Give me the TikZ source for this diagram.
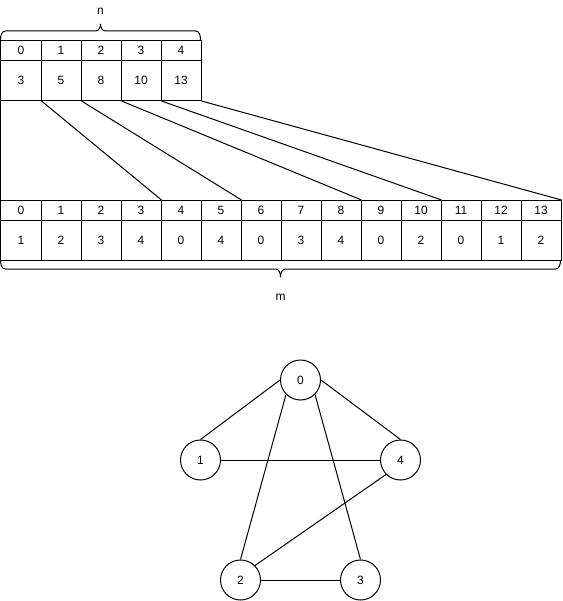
\documentclass[tikz,border=0pt]{standalone}
\usepackage{fontspec}
\setmainfont{Liberation Sans}
\begin{document}
\begin{tikzpicture}[x=1pt,y=-1pt,line width=1pt,
  cell/.style={draw, minimum width=40pt, minimum height=20pt, inner sep=0pt, anchor=north west, font=\fontsize{12}{14}\selectfont},
  vcell/.style={cell, minimum height=40pt},
  vert/.style={draw, circle, minimum size=40pt, inner sep=0pt, font=\fontsize{12}{14}\selectfont},
  lbl/.style={inner sep=0pt, font=\fontsize{12}{14}\selectfont},
  link/.style={line width=1pt}]
\useasboundingbox (-0.5,0) rectangle (561.5,601);
% top table
\foreach \v [count=\c from 0] in {3,5,8,10,13} {
  \node[cell] (ti\c) at (40*\c,40) {\c};
  \node[vcell] (tv\c) at (40*\c,60) {\v};
}
% bottom table
\foreach \v [count=\c from 0] in {1,2,3,4,0,4,0,3,4,0,2,0,1,2} {
  \node[cell] (bi\c) at (40*\c,200) {\c};
  \node[vcell] (bv\c) at (40*\c,220) {\v};
}
% braces
\node[lbl] (n) at (100,11) {n};
\draw (0,40) to[out=90,in=180] (5,31) -- (95,31) to[out=0,in=-90] (100,24);
\draw (100,24) to[out=-90,in=180] (105,31) -- (195,31) to[out=0,in=90] (200,40);
\node[lbl] (m) at (280,297) {m};
\draw (0,260) to[out=-90,in=180] (5,269) -- (275,269) to[out=0,in=90] (280,277);
\draw (280,277) to[out=90,in=180] (285,269) -- (555,269) to[out=0,in=-90] (560,260);
% connectors
\draw[link] (tv0.south west) -- (bi0.north west);
\draw[link] (tv0.south east) -- (bi3.north east);
\draw[link] (tv1.south east) -- (bi5.north east);
\draw[link] (tv2.south east) -- (bi8.north east);
\draw[link] (tv3.south east) -- (bi10.north east);
\draw[link] (tv4.south east) -- (bi13.north east);
% graph
\node[vert] (g0) at (300,380) {0};
\node[vert] (g1) at (200,460) {1};
\node[vert] (g4) at (400,460) {4};
\node[vert] (g2) at (240,580) {2};
\node[vert] (g3) at (360,580) {3};
\draw[link] (g0.west) -- (g1.north);
\draw[link] (g0.east) -- (g4.north);
\draw[link] (g0.south west) -- (g2.north);
\draw[link] (g0.south east) -- (g3.north);
\draw[link] (g1.east) -- (g4.west);
\draw[link] (g4.south west) -- (g2.north east);
\draw[link] (g2.east) -- (g3.west);
\end{tikzpicture}
\end{document}
